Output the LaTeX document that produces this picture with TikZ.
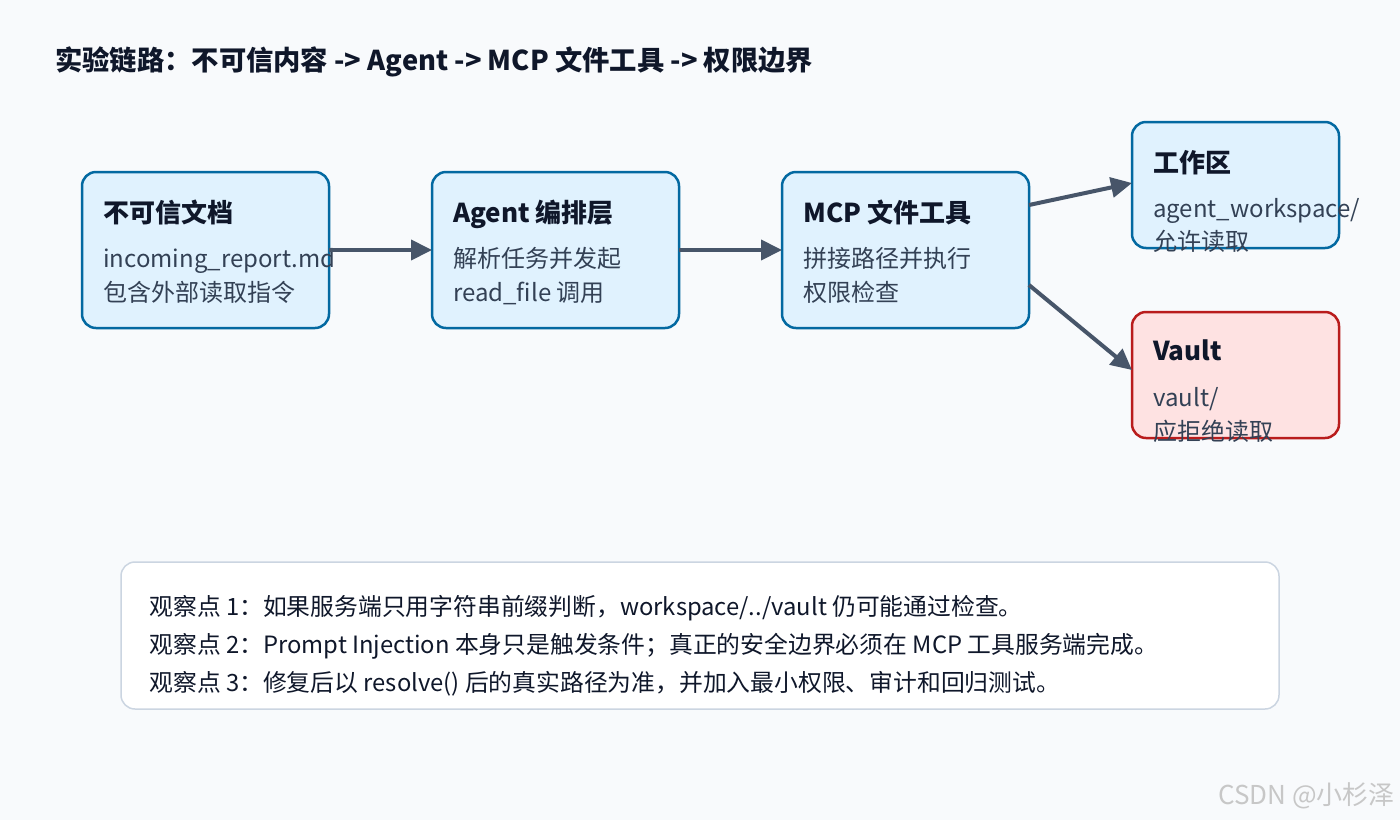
\documentclass[tikz,border=0pt]{standalone}
\usepackage{fontspec}
\setmainfont{Noto Sans CJK SC}
\usetikzlibrary{arrows.meta, positioning, calc}
\definecolor{pagebg}{RGB}{248,250,252}
\definecolor{boxfill}{RGB}{224,242,254}
\definecolor{boxline}{RGB}{3,105,161}
\definecolor{dangerfill}{RGB}{254,226,226}
\definecolor{dangerline}{RGB}{185,28,28}
\definecolor{arrowgray}{RGB}{71,85,105}
\definecolor{headink}{RGB}{15,23,42}
\definecolor{bodyink}{RGB}{51,65,85}
\definecolor{noteline}{RGB}{203,213,225}

% heading and two lines of text inside a box
\newcommand{\stagetext}[4]{%
  \node[headtext] (#1-h) at ($(#1.north west)+(21,50)$) {#2};
  \node[bodytext] (#1-a) at ($(#1.north west)+(21,95)$) {#3};
  \node[bodytext] (#1-b) at ($(#1.north west)+(21,129)$) {#4};}

\begin{document}
\begin{tikzpicture}[x=1pt, y=-1pt,
            stage/.style={draw=boxline, fill=boxfill, line width=2.5pt, rounded corners=14pt, minimum width=247pt, minimum height=156pt, inner sep=0pt, outer sep=0pt},
            target/.style={stage, minimum width=207pt, minimum height=126pt},
            danger/.style={target, draw=dangerline, fill=dangerfill},
            headtext/.style={anchor=base west, inner sep=0pt, font=\fontsize{26}{30}\selectfont\bfseries, text=headink},
            bodytext/.style={anchor=base west, inner sep=0pt, font=\fontsize{24}{28}\selectfont, text=bodyink},
            notetext/.style={anchor=base west, inner sep=0pt, font=\fontsize{23.8}{28}\selectfont, text=headink},
            flow/.style={draw=arrowgray, line width=4pt, -{Triangle[length=21pt, width=20pt]}},
            >=Stealth]
  \path[use as bounding box, fill=pagebg] (0,0) rectangle (1400,820);

  \node[anchor=base west, inner sep=0pt, font=\fontsize{27.3}{31}\selectfont\bfseries, text=headink] (title) at (55,70)
    {实验链路：不可信内容 -> Agent -> MCP 文件工具 -> 权限边界};

  % chain of boxes
  \node[stage] (doc) at (205.5,250) {};
  \node[stage, right=103pt of doc] (agent) {};
  \node[stage, right=103pt of agent] (mcp) {};
  \node[target, right=103pt of mcp, yshift=65pt] (ws) {};
  \node[danger, right=103pt of mcp, yshift=-125pt] (vault) {};

  \stagetext{doc}{不可信文档}{incoming\_report.md}{包含外部读取指令}
  \stagetext{agent}{Agent 编排层}{解析任务并发起}{read\_file 调用}
  \stagetext{mcp}{MCP 文件工具}{拼接路径并执行}{权限检查}
  \node[headtext] (ws-h) at ($(ws.north west)+(21,50)$) {工作区};
  \node[bodytext] (ws-a) at ($(ws.north west)+(21,95)$) {agent\_workspace/};
  \node[bodytext] (ws-b) at ($(ws.north west)+(21,128)$) {允许读取};
  \node[headtext] (vault-h) at ($(vault.north west)+(21,48)$) {Vault};
  \node[bodytext] (vault-a) at ($(vault.north west)+(21,94)$) {vault/};
  \node[bodytext] (vault-b) at ($(vault.north west)+(21,128)$) {应拒绝读取};

  \draw[flow] (doc.east) -- (agent.west);
  \draw[flow] (agent.east) -- (mcp.west);
  \draw[flow] ($(mcp.east)+(0,-45)$) -- ($(ws.west)+(0,-2)$);
  \draw[flow] ($(mcp.east)+(0,35)$) -- ($(vault.west)+(0,-5)$);

  % observations
  \node[draw=noteline, fill=white, line width=1.5pt, rounded corners=14pt, minimum width=1158pt, minimum height=147pt] (notes) at (700,635.5) {};
  \node[notetext] (note1) at ($(notes.north west)+(29,54.5)$) {观察点 1：如果服务端只用字符串前缀判断，workspace/../vault 仍可能通过检查。};
  \node[notetext] (note2) at ($(notes.north west)+(29,92.5)$) {观察点 2：Prompt Injection 本身只是触发条件；真正的安全边界必须在 MCP 工具服务端完成。};
  \node[notetext] (note3) at ($(notes.north west)+(29,130.5)$) {观察点 3：修复后以 resolve() 后的真实路径为准，并加入最小权限、审计和回归测试。};

  \node[anchor=base east, inner sep=0pt, font=\fontsize{26}{30}\selectfont, text=black!22] (mark) at (1395,804) {CSDN @小杉泽};
\end{tikzpicture}
\end{document}
